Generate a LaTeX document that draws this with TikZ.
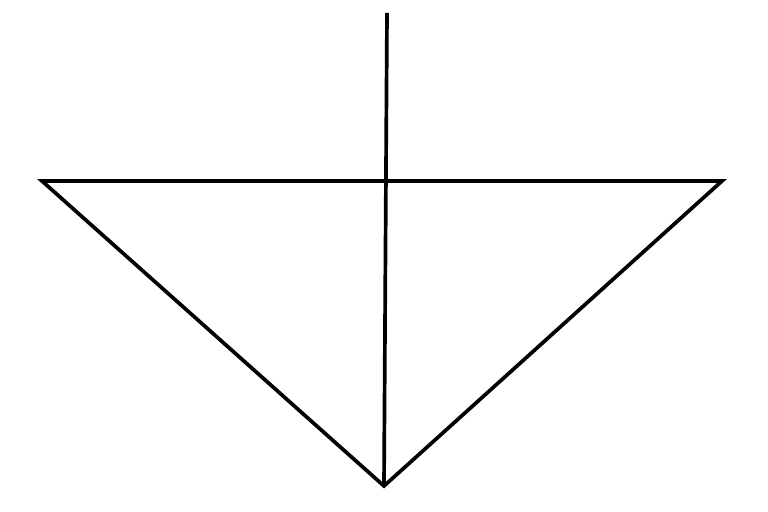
\documentclass[tikz,border=0pt]{standalone}
\usepackage{tikz}

\begin{document}
\begin{tikzpicture}[]
\useasboundingbox (0,0) rectangle (7.68,5.12);
\coordinate (L) at (0.42,3.31);
\coordinate (R) at (7.22,3.31);
\coordinate (B) at (3.84,0.26);
\coordinate (T) at (3.87,4.99);
\begin{scope}[line width=1.05pt,line join=miter]
    \draw (L)--(R)--(B)--cycle;
    \draw (T)--(B);
\end{scope}
\end{tikzpicture}
\end{document}
